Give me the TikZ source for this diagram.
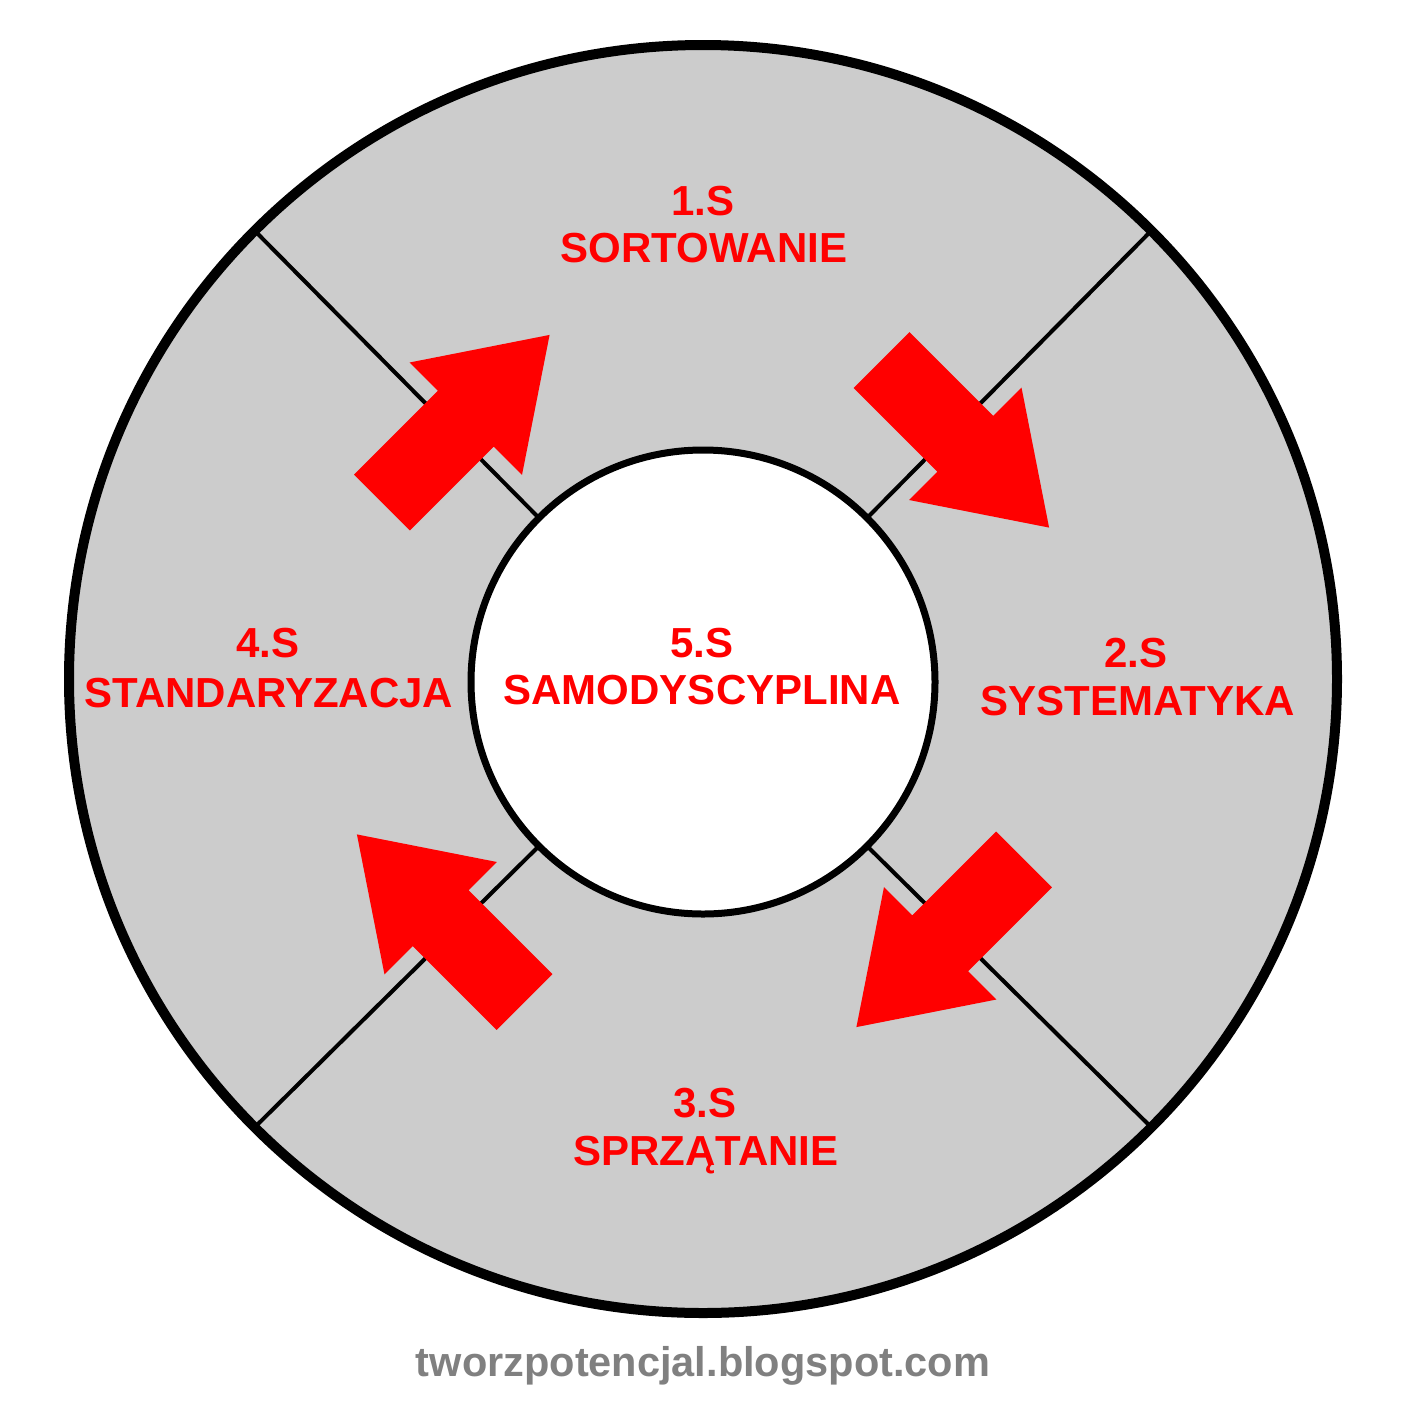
\documentclass[tikz,border=0pt]{standalone}
\usepackage{fontspec}
\setmainfont{Liberation Sans}
\definecolor{ringgray}{RGB}{204,204,204}
\definecolor{footgray}{RGB}{128,128,128}
\begin{document}
\begin{tikzpicture}[x=1pt,y=-1pt,
  lbl/.style={text=red, font=\fontsize{42}{48}\selectfont\bfseries, anchor=base, inner sep=0pt},
  ringdisc/.style={circle, fill=ringgray, draw=black, line width=10pt, inner sep=0pt, outer sep=0pt, minimum size=1268pt},
  hubdisc/.style={circle, fill=white, draw=black, line width=7pt, inner sep=0pt, outer sep=0pt, minimum size=464pt},
  divider/.style={draw=black, line width=4pt},
  blockarrow/.style={fill=red}]
\fill[white] (0,0) rectangle (1411,1411);
\useasboundingbox (0,0) rectangle (1411,1411);
\node[ringdisc] (outer) at (703,679) {};
\node[hubdisc] (inner) at (703,682) {};
\foreach \ang in {45,135,225,315}{
  \draw[divider] (inner.\ang) -- (outer.\ang);
}
\foreach \a in {0,-90,-180,-270}{
  \fill[blockarrow, rotate around={\a:(703,681)}, shift={(382,502.5)}, rotate=45]
    (0,39.5) -- (118.5,39.5) -- (118.5,79.5) -- (237,0) -- (118.5,-79.5) -- (118.5,-39.5) -- (0,-39.5) -- cycle;
}
\node[lbl] (n1) at (703,215) {1.S};
\node[lbl] (t1) at (704,262) {SORTOWANIE};
\node[lbl] (n2) at (1136,667) {2.S};
\node[lbl] (t2) at (1138,715) {SYSTEMATYKA};
\node[lbl] (n3) at (705,1117) {3.S};
\node[lbl] (t3) at (706,1165) {SPRZĄTANIE};
\node[lbl] (n4) at (268,657) {4.S};
\node[lbl] (t4) at (269,707) {STANDARYZACJA};
\node[lbl] (n5) at (702,657) {5.S};
\node[lbl] (t5) at (702,704) {SAMODYSCYPLINA};
\node[text=footgray, font=\fontsize{41.5}{48}\selectfont\bfseries, anchor=base, inner sep=0pt] (foot) at (703,1376) {tworzpotencjal.blogspot.com};
\end{tikzpicture}
\end{document}
